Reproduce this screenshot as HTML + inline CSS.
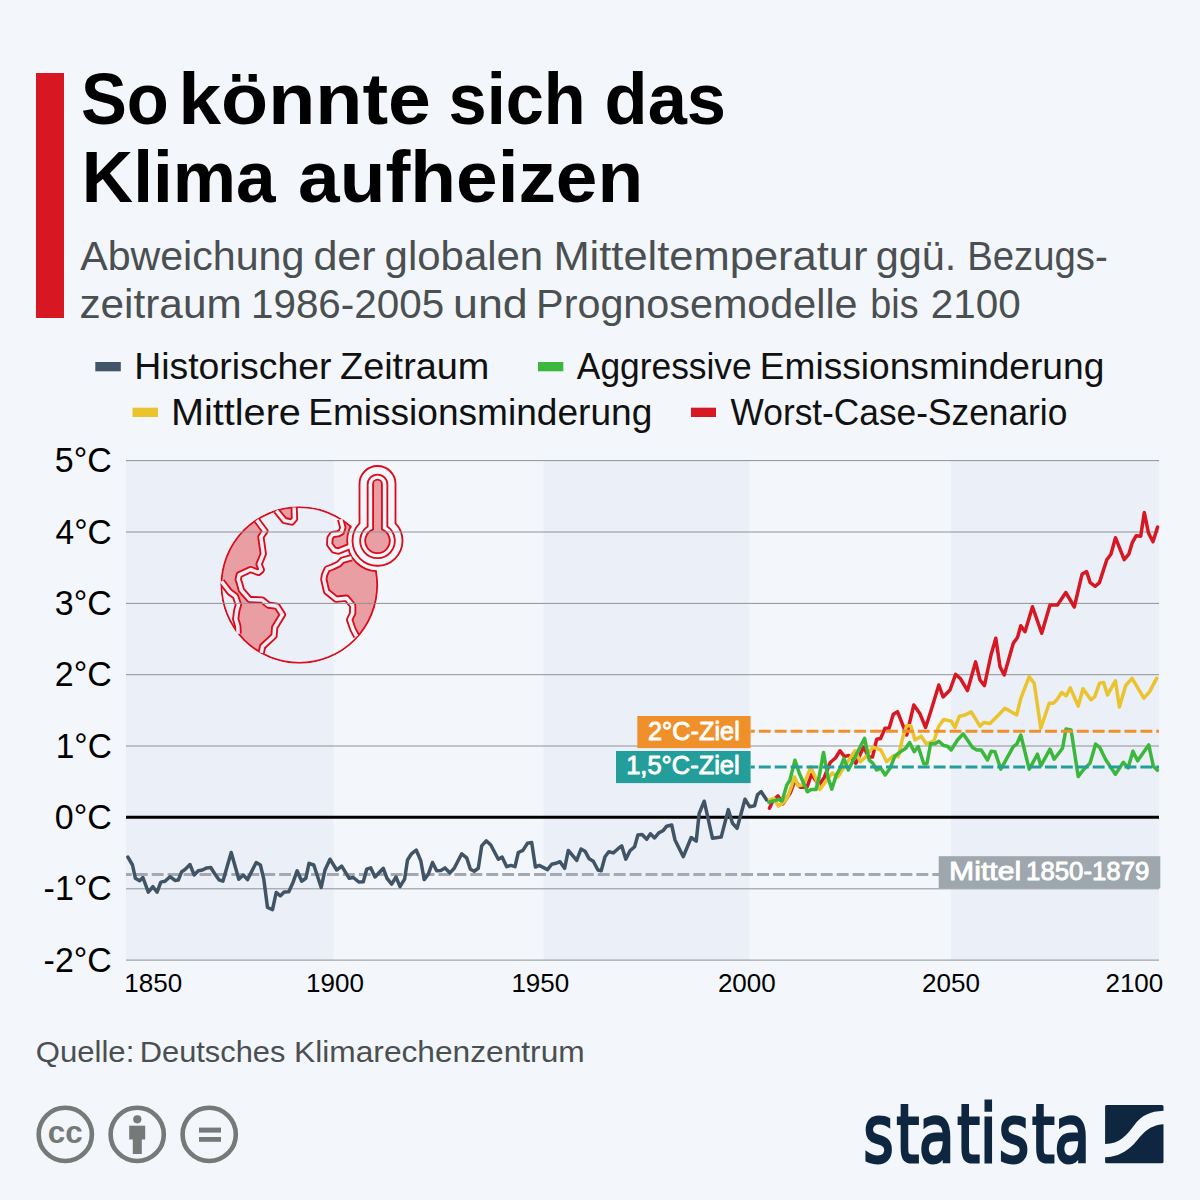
<!DOCTYPE html>
<html><head><meta charset="utf-8"><title>So könnte sich das Klima aufheizen</title>
<style>
html,body{margin:0;padding:0;background:#f3f6fa;}
body{width:1200px;height:1200px;overflow:hidden;position:relative;}
svg{position:absolute;left:0;top:0;font-family:'Liberation Sans', Arial, sans-serif;}
</style></head><body>
<svg width="1200" height="1200" viewBox="0 0 1200 1200">
<rect x="36" y="73" width="28" height="245" fill="#d71823"/>
<rect x="126.0" y="460.2" width="207.6" height="500.6" fill="#ebeff7"/>
<rect x="543.6" y="460.2" width="205.7" height="500.6" fill="#ebeff7"/>
<rect x="950.9" y="460.2" width="208.1" height="500.6" fill="#ebeff7"/>
<defs>
<clipPath id="gclip"><circle cx="299.3" cy="585.0" r="78.83"/></clipPath>
<mask id="gmask" maskUnits="userSpaceOnUse" x="200" y="450" width="220" height="240">
<rect x="200" y="450" width="220" height="240" fill="#fff"/>
<polyline points="256.8,520.1 264.9,531.1 260.9,536.9 263.3,553.9 259.1,564.2 261.3,569.9 258.4,572.4 250.6,569.5 239.2,574.8 238.2,579.5 239.6,583.5 241.4,590.2 249.5,599.4 262.3,600.1 268.3,605.1 277.1,606.2 282.5,614.7 274.7,627.4 274.0,635.9 262.6,646.5 261.3,652.9" fill="none" stroke="#000" stroke-width="3.50" stroke-linejoin="round" stroke-linecap="butt"/>
<polyline points="276.4,510.7 284.6,520.6 291.7,522.1 294.5,518.9 294.1,507.5" fill="none" stroke="#000" stroke-width="3.50" stroke-linejoin="round" stroke-linecap="butt"/>
<polyline points="221.5,581.4 229.7,592.0 235.4,596.2 238.5,604.8 236.8,610.4 235.7,618.9 237.8,626.0 238.2,633.8" fill="none" stroke="#000" stroke-width="3.50" stroke-linejoin="round" stroke-linecap="butt"/>
<polyline points="340.6,519.2 342.8,527.4 341.4,532.0 338.2,533.7 332.5,534.5 330.0,538.0 329.7,544.4 333.9,550.0 338.2,551.1 348.1,547.2 350.5,545.5" fill="none" stroke="#000" stroke-width="3.50" stroke-linejoin="round" stroke-linecap="butt"/>
<polyline points="351.6,557.8 342.4,560.3 338.9,563.9 332.5,567.0 327.2,569.0 324.5,575.0 323.8,579.3 326.6,591.4 336.1,599.2 346.5,598.2 352.7,605.5 352.7,613.3 349.6,619.7 353.1,629.6 356.7,636.3" fill="none" stroke="#000" stroke-width="3.50" stroke-linejoin="round" stroke-linecap="butt"/>
<circle cx="377.5" cy="540.8" r="29.38" fill="#000"/>
</mask></defs>
<g clip-path="url(#gclip)"><g mask="url(#gmask)">
<polygon points="256.8,520.1 264.9,531.1 260.9,536.9 263.3,553.9 259.1,564.2 261.3,569.9 258.4,572.4 250.6,569.5 239.2,574.8 238.2,579.5 239.6,583.5 241.4,590.2 249.5,599.4 262.3,600.1 268.3,605.1 277.1,606.2 282.5,614.7 274.7,627.4 274.0,635.9 262.6,646.5 261.3,652.9 259.3,656.5 257.0,655.1 254.8,653.7 252.6,652.3 250.4,650.7 248.4,649.1 246.3,647.5 244.3,645.7 242.4,643.9 240.5,642.0 238.7,640.1 237.0,638.1 235.3,636.1 238.2,633.8 237.8,626.0 235.7,618.9 236.8,610.4 238.5,604.8 235.4,596.2 229.7,592.0 221.5,581.4 217.5,581.2 218.0,574.8 219.1,568.4 220.6,562.2 222.7,556.1 225.2,550.1 228.2,544.4 231.6,538.9 235.4,533.8 239.6,528.9 244.2,524.4 249.2,520.2 254.4,516.5" fill="#e99ea3"/>
<polygon points="276.4,510.7 284.6,520.6 291.7,522.1 294.5,518.9 294.1,507.5 293.8,503.3 289.1,503.7 284.4,504.5 279.8,505.5 275.2,506.7" fill="#e99ea3"/>
<polygon points="340.6,519.2 342.8,527.4 341.4,532.0 338.2,533.7 332.5,534.5 330.0,538.0 329.7,544.4 333.9,550.0 338.2,551.1 348.1,547.2 350.5,545.5 366.0,546.0 368.0,505.0 344.0,503.0" fill="#e99ea3"/>
<polygon points="351.6,557.8 342.4,560.3 338.9,563.9 332.5,567.0 327.2,569.0 324.5,575.0 323.8,579.3 326.6,591.4 336.1,599.2 346.5,598.2 352.7,605.5 352.7,613.3 349.6,619.7 353.1,629.6 356.7,636.3 360.4,639.6 365.2,633.6 369.5,627.2 373.1,620.5 376.1,613.4 378.4,606.1 380.1,598.5 381.0,590.9 381.2,583.2 380.7,575.6 379.4,568.0 372.0,545.0 360.0,552.0" fill="#e99ea3"/>
<polyline points="256.8,520.1 264.9,531.1 260.9,536.9 263.3,553.9 259.1,564.2 261.3,569.9 258.4,572.4 250.6,569.5 239.2,574.8 238.2,579.5 239.6,583.5 241.4,590.2 249.5,599.4 262.3,600.1 268.3,605.1 277.1,606.2 282.5,614.7 274.7,627.4 274.0,635.9 262.6,646.5 261.3,652.9" fill="none" stroke="#db0c1c" stroke-width="7.20" stroke-linejoin="round"/>
<polyline points="276.4,510.7 284.6,520.6 291.7,522.1 294.5,518.9 294.1,507.5" fill="none" stroke="#db0c1c" stroke-width="7.20" stroke-linejoin="round"/>
<polyline points="221.5,581.4 229.7,592.0 235.4,596.2 238.5,604.8 236.8,610.4 235.7,618.9 237.8,626.0 238.2,633.8" fill="none" stroke="#db0c1c" stroke-width="7.20" stroke-linejoin="round"/>
<polyline points="340.6,519.2 342.8,527.4 341.4,532.0 338.2,533.7 332.5,534.5 330.0,538.0 329.7,544.4 333.9,550.0 338.2,551.1 348.1,547.2 350.5,545.5" fill="none" stroke="#db0c1c" stroke-width="7.20" stroke-linejoin="round"/>
<polyline points="351.6,557.8 342.4,560.3 338.9,563.9 332.5,567.0 327.2,569.0 324.5,575.0 323.8,579.3 326.6,591.4 336.1,599.2 346.5,598.2 352.7,605.5 352.7,613.3 349.6,619.7 353.1,629.6 356.7,636.3" fill="none" stroke="#db0c1c" stroke-width="7.20" stroke-linejoin="round"/>
<circle cx="299.3" cy="585.0" r="77.90" fill="none" stroke="#db0c1c" stroke-width="1.85"/>
<circle cx="377.5" cy="540.8" r="30.30" fill="none" stroke="#db0c1c" stroke-width="1.85"/>
</g></g>
<path d="M359.50,523.45 L359.50,484.00 A18.00,18.00 0 0 1 395.50,484.00 L395.50,523.45 A25.00,25.00 0 1 1 359.50,523.45 Z" fill="none" stroke="#db0c1c" stroke-width="1.85"/>
<path d="M367.65,526.58 L367.65,484.40 A9.85,9.85 0 0 1 387.35,484.40 L387.35,526.58 A17.30,17.30 0 1 1 367.65,526.58 Z" fill="none" stroke="#db0c1c" stroke-width="1.85"/>
<path d="M373.10,529.31 L373.10,484.00 A4.40,4.40 0 0 1 381.90,484.00 L381.90,529.31 A12.30,12.30 0 1 1 373.10,529.31 Z" fill="#e99ea3" stroke="#db0c1c" stroke-width="1.85"/>
<line x1="126" x2="1159" y1="460.6" y2="460.6" stroke="#8e9397" stroke-width="1"/>
<line x1="126" x2="1159" y1="532.0" y2="532.0" stroke="#8e9397" stroke-width="1"/>
<line x1="126" x2="1159" y1="603.4" y2="603.4" stroke="#8e9397" stroke-width="1"/>
<line x1="126" x2="1159" y1="674.7" y2="674.7" stroke="#8e9397" stroke-width="1"/>
<line x1="126" x2="1159" y1="746.0" y2="746.0" stroke="#8e9397" stroke-width="1"/>
<line x1="126" x2="1159" y1="888.8" y2="888.8" stroke="#8e9397" stroke-width="1"/>
<line x1="126" x2="1159" y1="960.1" y2="960.1" stroke="#8e9397" stroke-width="1"/>
<line x1="126" x2="1159" y1="817.3" y2="817.3" stroke="#000" stroke-width="3"/>
<line x1="126" x2="939" y1="874.4" y2="874.4" stroke="#a2a9b0" stroke-width="3" stroke-dasharray="11.9 4.03" stroke-dashoffset="6.13"/>
<polyline points="127.9,857.1 132.5,865.0 135.4,878.3 139.6,880.8 142.9,877.5 148.3,892.1 152.9,886.7 157.1,892.1 160.8,882.1 165.0,881.2 170.0,876.7 175.0,880.4 178.3,880.0 181.7,871.7 185.0,869.6 190.0,864.6 194.2,875.0 198.3,870.8 202.5,870.0 206.7,867.9 210.8,867.5 215.0,874.2 219.0,879.8 222.9,881.2 231.2,852.5 238.8,879.2 243.3,875.0 247.5,879.6 256.2,862.5 260.4,865.0 263.8,879.2 267.5,907.5 272.5,909.6 276.2,892.5 280.4,895.8 284.2,892.0 288.8,891.7 293.3,881.7 297.1,870.8 301.7,881.2 305.8,878.3 309.0,863.3 313.8,865.0 321.2,887.5 325.0,870.0 330.0,859.2 336.7,870.0 341.7,866.2 349.2,878.3 353.3,877.5 358.8,882.0 363.3,881.7 366.7,869.2 370.8,867.9 375.0,877.0 383.3,868.3 387.0,878.3 391.7,884.2 396.0,877.0 400.0,886.7 404.6,879.2 407.5,860.0 411.2,854.2 416.2,850.0 420.8,860.8 424.2,879.6 428.3,874.2 432.5,862.5 436.7,870.8 440.8,870.4 445.0,867.9 450.0,872.9 454.2,868.3 461.7,853.8 466.7,857.9 470.4,869.2 474.2,871.2 478.3,868.3 481.7,845.8 486.2,840.8 490.8,845.0 498.3,859.2 502.1,857.1 506.7,866.7 510.8,865.4 515.0,866.7 518.3,852.5 522.9,850.4 527.5,843.3 531.7,842.5 535.4,867.1 539.2,865.4 547.5,869.6 551.7,864.2 555.8,863.3 560.0,861.7 564.6,868.3 568.3,850.4 576.7,860.4 581.0,849.0 585.0,851.2 589.2,858.8 593.3,861.2 597.9,870.0 601.2,870.8 605.0,856.7 608.8,851.7 613.3,852.9 617.5,849.2 621.7,845.8 625.8,859.2 630.0,850.8 634.6,846.7 637.9,835.0 642.1,834.6 646.7,839.2 650.4,833.8 654.6,837.9 658.8,832.9 662.9,830.8 666.7,826.2 671.7,825.0 675.0,840.0 683.3,856.7 691.2,837.5 696.2,841.2 699.2,813.3 704.2,801.2 712.5,838.3 721.2,837.1 728.3,809.6 732.5,823.3 737.1,828.3 745.0,799.2 749.6,806.7 754.6,805.8 757.5,794.6 761.2,791.7 766.7,800.0" fill="none" stroke="#415466" stroke-width="3.5" stroke-linejoin="round" stroke-linecap="round"/>
<polyline points="769.5,808.2 773.2,800.0 778.0,795.9 783.0,803.8 790.5,792.5 795.0,780.5 800.2,787.2 807.0,787.2 811.5,774.5 819.0,785.0 824.2,777.5 830.2,762.5 835.5,758.0 840.0,750.8 844.6,756.7 848.8,755.4 855.8,763.3 863.8,747.1 868.5,757.0 872.5,757.0 876.7,739.2 880.6,738.5 885.0,728.3 889.2,727.9 893.3,714.2 897.5,711.7 906.7,735.0 913.8,705.0 920.0,713.8 925.6,727.5 931.2,710.0 938.8,685.0 943.1,696.9 950.0,690.0 955.6,674.4 960.6,678.8 967.5,690.6 975.6,661.9 980.0,680.0 984.4,685.6 991.0,655.0 995.8,638.3 1000.0,666.7 1004.2,675.0 1013.3,643.3 1017.5,637.5 1020.8,625.8 1025.0,631.7 1032.5,606.7 1041.7,633.3 1050.0,605.0 1057.5,605.0 1065.8,592.5 1074.3,607.0 1082.0,574.3 1086.6,571.6 1090.2,582.6 1095.3,586.3 1099.4,582.6 1106.8,559.7 1110.9,554.2 1115.5,537.7 1124.2,559.7 1128.8,554.2 1132.4,542.3 1136.1,535.8 1140.7,536.3 1144.3,512.5 1148.5,533.1 1153.0,541.8 1157.6,527.1" fill="none" stroke="#d71823" stroke-width="3.5" stroke-linejoin="round" stroke-linecap="round"/>
<polyline points="769.5,800.0 774.0,798.5 778.5,806.0 783.8,802.3 787.5,797.0 791.2,787.2 794.6,776.8 798.0,785.8 801.8,785.0 805.5,780.5 810.8,767.0 816.0,779.0 819.8,789.5 825.0,782.8 828.8,777.5 832.5,773.0 837.0,777.5 839.2,775.0 843.5,768.0 855.0,750.8 860.4,761.7 865.8,756.7 872.9,747.1 880.8,750.0 886.7,761.7 893.3,755.8 898.3,756.7 902.5,738.3 906.7,725.8 910.8,725.8 915.0,740.0 921.2,736.2 926.2,743.8 933.8,741.2 938.8,726.2 943.8,719.4 951.2,721.2 955.0,727.5 959.4,716.2 965.0,715.0 971.2,711.9 980.0,726.2 983.8,722.5 990.0,723.5 996.7,716.7 1005.0,708.3 1016.7,715.0 1020.8,698.3 1029.2,676.7 1034.2,683.3 1040.8,728.3 1049.2,703.3 1053.3,703.3 1056.7,700.0 1061.7,692.5 1066.3,695.8 1070.3,687.9 1078.2,706.1 1083.0,688.7 1090.9,699.8 1094.8,696.6 1099.6,683.1 1103.6,682.4 1107.5,695.0 1115.4,680.8 1119.4,706.9 1125.7,685.5 1132.1,678.4 1143.9,698.2 1149.5,691.9 1156.6,678.4" fill="none" stroke="#ebc32c" stroke-width="3.5" stroke-linejoin="round" stroke-linecap="round"/>
<polyline points="768.8,802.3 774.0,800.8 778.5,799.3 782.2,800.8 786.8,785.0 789.8,780.5 795.0,760.2 799.5,773.8 807.4,791.8 811.1,789.5 816.0,789.5 819.0,777.5 823.5,752.4 828.0,777.5 831.8,789.1 836.2,775.2 840.0,768.5 843.8,758.5 848.3,770.0 864.6,738.3 869.2,760.2 872.5,762.8 876.7,770.0 880.8,768.3 885.2,775.0 890.0,768.3 895.0,755.8 900.0,752.1 905.8,748.3 909.6,742.5 914.2,751.7 918.2,746.5 923.8,763.8 926.9,763.8 930.6,743.8 935.0,743.8 938.8,741.2 943.8,745.6 947.5,746.2 951.2,750.0 957.5,740.0 963.1,733.8 967.5,740.0 972.5,747.5 976.9,750.0 981.2,750.0 987.5,760.0 991.2,751.2 995.0,751.7 1000.8,769.2 1013.3,746.7 1016.7,744.2 1020.8,735.0 1029.2,769.2 1037.5,754.2 1040.8,765.8 1050.0,749.2 1054.2,759.2 1062.5,748.3 1066.0,729.0 1071.1,729.9 1078.2,776.6 1083.0,770.3 1090.1,763.1 1095.6,744.1 1099.6,747.3 1105.9,760.0 1115.4,774.2 1123.4,762.3 1128.1,767.9 1132.9,751.3 1137.6,760.8 1148.7,744.9 1153.4,766.3 1157.4,770.3" fill="none" stroke="#3bb83b" stroke-width="3.5" stroke-linejoin="round" stroke-linecap="round"/>
<line x1="750.6" x2="1159" y1="731.3" y2="731.3" stroke="#f0902b" stroke-width="3" stroke-dasharray="11.9 4" stroke-dashoffset="7.70"/>
<line x1="750.6" x2="1159" y1="766.9" y2="766.9" stroke="#239e9b" stroke-width="3" stroke-dasharray="11.9 4" stroke-dashoffset="7.70"/>
<rect x="637.3" y="716" width="113.3" height="32.1" fill="#f0902b"/>
<rect x="616" y="751" width="134.6" height="32.1" fill="#239e9b"/>
<rect x="938.7" y="856.2" width="221.6" height="32.2" fill="#9ea6ae"/>
<text x="81.0" y="124.2" font-size="72.5" font-weight="bold" fill="#000" text-anchor="start" textLength="87.9" lengthAdjust="spacingAndGlyphs" >So</text>
<text x="178.2" y="124.2" font-size="72.5" font-weight="bold" fill="#000" text-anchor="start" textLength="252.8" lengthAdjust="spacingAndGlyphs" >könnte</text>
<text x="448.6" y="124.2" font-size="72.5" font-weight="bold" fill="#000" text-anchor="start" textLength="137.1" lengthAdjust="spacingAndGlyphs" >sich</text>
<text x="604.6" y="124.2" font-size="72.5" font-weight="bold" fill="#000" text-anchor="start" textLength="121.4" lengthAdjust="spacingAndGlyphs" >das</text>
<text x="81.8" y="202.4" font-size="72.5" font-weight="bold" fill="#000" text-anchor="start" textLength="193.8" lengthAdjust="spacingAndGlyphs" >Klima</text>
<text x="298.1" y="202.4" font-size="72.5" font-weight="bold" fill="#000" text-anchor="start" textLength="345.1" lengthAdjust="spacingAndGlyphs" >aufheizen</text>
<text x="80.2" y="269.8" font-size="41.0" font-weight="normal" fill="#4a4f51" text-anchor="start" textLength="224.2" lengthAdjust="spacingAndGlyphs" >Abweichung</text>
<text x="313.4" y="269.8" font-size="41.0" font-weight="normal" fill="#4a4f51" text-anchor="start" textLength="62.3" lengthAdjust="spacingAndGlyphs" >der</text>
<text x="384.6" y="269.8" font-size="41.0" font-weight="normal" fill="#4a4f51" text-anchor="start" textLength="158.6" lengthAdjust="spacingAndGlyphs" >globalen</text>
<text x="553.4" y="269.8" font-size="41.0" font-weight="normal" fill="#4a4f51" text-anchor="start" textLength="314.1" lengthAdjust="spacingAndGlyphs" >Mitteltemperatur</text>
<text x="875.8" y="269.8" font-size="41.0" font-weight="normal" fill="#4a4f51" text-anchor="start" textLength="80.5" lengthAdjust="spacingAndGlyphs" >ggü.</text>
<text x="967.3" y="269.8" font-size="41.0" font-weight="normal" fill="#4a4f51" text-anchor="start" textLength="140.4" lengthAdjust="spacingAndGlyphs" >Bezugs-</text>
<text x="79.4" y="317.7" font-size="41.0" font-weight="normal" fill="#4a4f51" text-anchor="start" textLength="162.3" lengthAdjust="spacingAndGlyphs" >zeitraum</text>
<text x="251.0" y="317.7" font-size="41.0" font-weight="normal" fill="#4a4f51" text-anchor="start" textLength="193.1" lengthAdjust="spacingAndGlyphs" >1986-2005</text>
<text x="453.0" y="317.7" font-size="41.0" font-weight="normal" fill="#4a4f51" text-anchor="start" textLength="74.7" lengthAdjust="spacingAndGlyphs" >und</text>
<text x="536.1" y="317.7" font-size="41.0" font-weight="normal" fill="#4a4f51" text-anchor="start" textLength="321.5" lengthAdjust="spacingAndGlyphs" >Prognosemodelle</text>
<text x="870.3" y="317.7" font-size="41.0" font-weight="normal" fill="#4a4f51" text-anchor="start" textLength="48.2" lengthAdjust="spacingAndGlyphs" >bis</text>
<text x="930.8" y="317.7" font-size="41.0" font-weight="normal" fill="#4a4f51" text-anchor="start" textLength="89.8" lengthAdjust="spacingAndGlyphs" >2100</text>
<text x="134.2" y="379.4" font-size="36.0" font-weight="normal" fill="#111" text-anchor="start" textLength="197.3" lengthAdjust="spacingAndGlyphs" >Historischer</text>
<text x="340.0" y="379.4" font-size="36.0" font-weight="normal" fill="#111" text-anchor="start" textLength="149.4" lengthAdjust="spacingAndGlyphs" >Zeitraum</text>
<text x="576.8" y="379.4" font-size="36.0" font-weight="normal" fill="#111" text-anchor="start" textLength="174.9" lengthAdjust="spacingAndGlyphs" >Aggressive</text>
<text x="759.8" y="379.4" font-size="36.0" font-weight="normal" fill="#111" text-anchor="start" textLength="344.5" lengthAdjust="spacingAndGlyphs" >Emissionsminderung</text>
<text x="171.0" y="425.3" font-size="36.0" font-weight="normal" fill="#111" text-anchor="start" textLength="129.9" lengthAdjust="spacingAndGlyphs" >Mittlere</text>
<text x="308.2" y="425.3" font-size="36.0" font-weight="normal" fill="#111" text-anchor="start" textLength="344.1" lengthAdjust="spacingAndGlyphs" >Emissionsminderung</text>
<text x="730.6" y="425.3" font-size="36.0" font-weight="normal" fill="#111" text-anchor="start" textLength="336.7" lengthAdjust="spacingAndGlyphs" >Worst-Case-Szenario</text>
<text x="648.0" y="740.0" font-size="26.0" font-weight="normal" fill="#fff" text-anchor="start" textLength="91.8" lengthAdjust="spacingAndGlyphs" stroke="#fff" stroke-width="0.9" stroke-linejoin="round">2°C-Ziel</text>
<text x="626.2" y="774.4" font-size="26.0" font-weight="normal" fill="#fff" text-anchor="start" textLength="113.5" lengthAdjust="spacingAndGlyphs" stroke="#fff" stroke-width="0.9" stroke-linejoin="round">1,5°C-Ziel</text>
<text x="949.1" y="880.0" font-size="26.0" font-weight="normal" fill="#fff" text-anchor="start" textLength="72.1" lengthAdjust="spacingAndGlyphs" stroke="#fff" stroke-width="0.9" stroke-linejoin="round">Mittel</text>
<text x="1026.1" y="880.0" font-size="26.0" font-weight="normal" fill="#fff" text-anchor="start" textLength="123.2" lengthAdjust="spacingAndGlyphs" stroke="#fff" stroke-width="0.9" stroke-linejoin="round">1850-1879</text>
<text x="35.8" y="1061.5" font-size="30.0" font-weight="normal" fill="#4a4f51" text-anchor="start" textLength="98.5" lengthAdjust="spacingAndGlyphs" >Quelle:</text>
<text x="139.8" y="1061.5" font-size="30.0" font-weight="normal" fill="#4a4f51" text-anchor="start" textLength="145.5" lengthAdjust="spacingAndGlyphs" >Deutsches</text>
<text x="294.1" y="1061.5" font-size="30.0" font-weight="normal" fill="#4a4f51" text-anchor="start" textLength="290.6" lengthAdjust="spacingAndGlyphs" >Klimarechenzentrum</text>
<text x="54.8" y="472.1" font-size="35.5" font-weight="normal" fill="#000" text-anchor="start" textLength="57.0" lengthAdjust="spacingAndGlyphs" >5°C</text>
<text x="55.6" y="543.5" font-size="35.5" font-weight="normal" fill="#000" text-anchor="start" textLength="56.2" lengthAdjust="spacingAndGlyphs" >4°C</text>
<text x="54.8" y="614.9" font-size="35.5" font-weight="normal" fill="#000" text-anchor="start" textLength="57.0" lengthAdjust="spacingAndGlyphs" >3°C</text>
<text x="54.8" y="686.2" font-size="35.5" font-weight="normal" fill="#000" text-anchor="start" textLength="57.0" lengthAdjust="spacingAndGlyphs" >2°C</text>
<text x="55.8" y="757.5" font-size="35.5" font-weight="normal" fill="#000" text-anchor="start" textLength="56.0" lengthAdjust="spacingAndGlyphs" >1°C</text>
<text x="54.8" y="828.9" font-size="35.5" font-weight="normal" fill="#000" text-anchor="start" textLength="57.0" lengthAdjust="spacingAndGlyphs" >0°C</text>
<text x="43.6" y="900.2" font-size="35.5" font-weight="normal" fill="#000" text-anchor="start" textLength="68.2" lengthAdjust="spacingAndGlyphs" >-1°C</text>
<text x="43.6" y="971.6" font-size="35.5" font-weight="normal" fill="#000" text-anchor="start" textLength="68.2" lengthAdjust="spacingAndGlyphs" >-2°C</text>
<rect x="95.3" y="362" width="25.5" height="9.3" fill="#435568"/>
<rect x="538" y="362" width="25.3" height="9.3" fill="#3bb83b"/>
<rect x="132.5" y="407.7" width="25.5" height="9.3" fill="#ebc32c"/>
<rect x="691" y="407.7" width="25" height="9.3" fill="#d71823"/>
<text x="124.3" y="992.0" font-size="26.0" font-weight="normal" fill="#000" text-anchor="start" >1850</text>
<text x="335.0" y="992.0" font-size="26.0" font-weight="normal" fill="#000" text-anchor="middle" >1900</text>
<text x="540.3" y="992.0" font-size="26.0" font-weight="normal" fill="#000" text-anchor="middle" >1950</text>
<text x="746.8" y="992.0" font-size="26.0" font-weight="normal" fill="#000" text-anchor="middle" >2000</text>
<text x="951.0" y="992.0" font-size="26.0" font-weight="normal" fill="#000" text-anchor="middle" >2050</text>
<text x="1163.3" y="992.0" font-size="26.0" font-weight="normal" fill="#000" text-anchor="end" >2100</text>
<circle cx="65.3" cy="1134.4" r="26.6" fill="none" stroke="#757977" stroke-width="4.6"/>
<circle cx="137.2" cy="1134.4" r="26.6" fill="none" stroke="#757977" stroke-width="4.6"/>
<circle cx="209.2" cy="1134.4" r="26.6" fill="none" stroke="#757977" stroke-width="4.6"/>
<text x="65.3" y="1143.2" font-size="31.5" font-weight="bold" fill="#757977" text-anchor="middle" textLength="35" lengthAdjust="spacingAndGlyphs">cc</text>
<circle cx="137.3" cy="1119.3" r="4.1" fill="#757977"/>
<rect x="129.2" y="1125.7" width="16" height="13.8" fill="#757977"/>
<rect x="132.8" y="1139" width="9" height="15" fill="#757977"/>
<rect x="199" y="1127.6" width="22" height="5" fill="#757977"/>
<rect x="199" y="1137" width="22" height="4.8" fill="#757977"/>
<text transform="translate(860.0,1161.8) scale(0.80,1)" x="4.50 45.75 73.88 121.62 150.37 173.75 215.00 243.13" y="0" font-family="'DejaVu Sans', sans-serif" font-stretch="condensed" font-size="80" fill="#0f2641" stroke="#0f2641" stroke-width="3">statista</text>
<path d="M1106.6,1105.1 H1162 Q1163.5,1105.1 1163.5,1106.6 V1110.8 C1150,1111.5 1142,1115 1134,1125.5 C1126,1136 1120,1143.5 1105.1,1144 V1106.6 Q1105.1,1105.1 1106.6,1105.1 Z" fill="#0f2641"/>
<path d="M1105.1,1157.2 C1118,1157 1126,1151.5 1134,1144 C1142,1135 1147,1125.5 1163.5,1124.2 V1161.8 Q1163.5,1163.3 1162,1163.3 H1106.6 Q1105.1,1163.3 1105.1,1161.8 Z" fill="#0f2641"/>
</svg>
</body></html>
